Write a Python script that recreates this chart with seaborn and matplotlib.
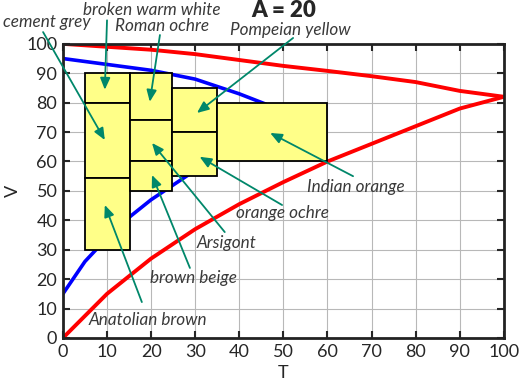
import matplotlib
matplotlib.use('Agg')
import matplotlib.pyplot as plt
import pandas as pd
import seaborn as sns

# boundary curves
t_red = [0, 10, 20, 30, 40, 50, 60, 70, 80, 90, 100]
v_red_upper = [100, 99, 98, 96.5, 94.5, 92.5, 90.8, 89, 87, 84, 82]
v_red_lower = [0, 15, 27, 37, 45.5, 53, 60, 66, 72, 78, 82]
t_blue = [0, 10, 20, 30, 40, 46, 50, 46, 40, 35, 30, 25, 20, 15, 10, 5, 0]
v_blue = [95, 93, 91, 88, 83, 79.5, 72, 67, 64, 61, 57, 52, 47, 41, 34, 26, 15]

# colour boxes
names = ['broken warm white', 'cement grey', 'Anatolian brown', 'Roman ochre',
         'Arsigont', 'brown beige', 'Pompeian yellow', 'orange ochre', 'Indian orange']
t_lo = [5, 5, 5, 15.3, 15.3, 15.3, 24.7, 24.7, 35]
t_hi = [15.3, 15.3, 15.3, 24.7, 24.7, 24.7, 35, 35, 60]
v_lo = [80, 54.5, 30, 74, 60, 50, 70, 55, 60]
v_hi = [90, 80, 54.5, 90, 74, 60, 85, 70, 80]

# label text position, arrow tail, arrow head (data coords)
label_pos = {
    'cement grey': ((-3.6, 107.5), (-4.5, 104), (9.5, 67.3)),
    'broken warm white': ((20.2, 111.6), (10, 108), (9.5, 84.4)),
    'Roman ochre': ((22.4, 106), (22, 103), (19.7, 80.3)),
    'Pompeian yellow': ((51.5, 104.8), (52.2, 102), (30.4, 76.5)),
    'Indian orange': ((66.4, 51.4), (65.8, 55), (47, 69.7)),
    'orange ochre': ((49.9, 42.5), (49.7, 45.2), (31, 61.6)),
    'Arsigont': ((37.2, 32.3), (36.7, 36), (20.2, 66.3)),
    'brown beige': ((29.7, 20.4), (28.8, 23.8), (20.2, 55.4)),
    'Anatolian brown': ((19.3, 6.1), (17.9, 12.2), (9.5, 45.2)),
}

sns.set_style('ticks')
plt.rcParams['font.family'] = ['Lato', 'DejaVu Sans']

fig = plt.figure(figsize=(5.2, 3.88), dpi=100)
ax = fig.add_axes([0.121, 0.129, 0.848, 0.758])

red_up = pd.DataFrame({'T': t_red, 'V': v_red_upper})
red_lo = pd.DataFrame({'T': t_red, 'V': v_red_lower})
blue = pd.DataFrame({'T': t_blue, 'V': v_blue})
sns.lineplot(data=blue, x='T', y='V', sort=False, estimator=None, errorbar=None,
             color='blue', lw=2.6, ax=ax, zorder=2)
for df in (red_up, red_lo):
    sns.lineplot(data=df, x='T', y='V', estimator=None, errorbar=None,
                 color='red', lw=2.8, ax=ax, zorder=2)

widths = [b - a for a, b in zip(t_lo, t_hi)]
heights = [b - a for a, b in zip(v_lo, v_hi)]
ax.bar(t_lo, heights, width=widths, bottom=v_lo, align='edge',
       color='#ffff88', edgecolor='black', linewidth=1.3, zorder=3)

for name in names:
    txt, tail, head = label_pos[name]
    ax.text(txt[0], txt[1], name, ha='center', va='center', fontsize=12.3,
            style='italic', color='#3a3a3a', clip_on=False, zorder=5)
    ax.annotate('', xy=head, xytext=tail, annotation_clip=False, zorder=6,
                arrowprops=dict(arrowstyle='-|>,head_length=0.7,head_width=0.3',
                                color='#00876a', lw=1.3, shrinkA=0, shrinkB=0))

ax.set_xlim(0, 100)
ax.set_ylim(0, 100)
ax.set_xticks(range(0, 101, 10))
ax.set_yticks(range(0, 101, 10))
ax.grid(True, color='#b8b8b8', lw=0.8)
ax.set_axisbelow(True)
ax.tick_params(direction='in', length=5, width=1.5, top=True, right=True,
               labelsize=13, pad=4)
for s in ax.spines.values():
    s.set_linewidth(2)
    s.set_color('#222222')
    s.set_zorder(4)
ax.set_xlabel('T', fontsize=13)
ax.set_ylabel('V', fontsize=13)
ax.set_title('A = 20', fontsize=16, fontweight='heavy', pad=19)

fig.savefig('out.png', dpi=100)
